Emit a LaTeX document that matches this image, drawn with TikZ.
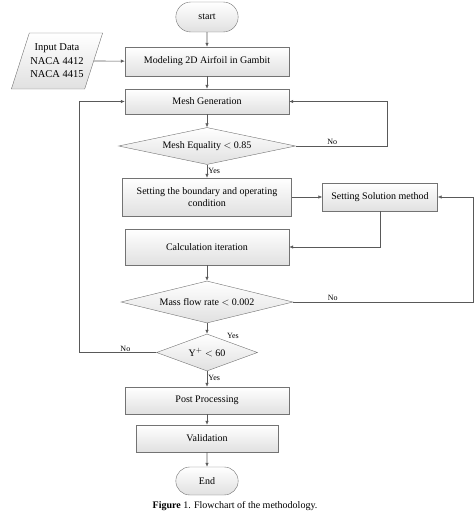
\documentclass[tikz,border=0pt]{standalone}
\usepackage{fontspec}
\setmainfont{Liberation Serif}
\usetikzlibrary{shapes.geometric,shapes.misc,arrows.meta}

\tikzset{
  box/.style={draw=black!55, top color=white, bottom color=black!12, minimum width=164pt, minimum height=27pt, align=center, inner sep=2pt},
  decision/.style={draw=black!55, diamond, aspect=4.8, top color=white, bottom color=black!12, inner sep=0pt, align=center},
  term/.style={draw=black!55, rounded rectangle, top color=white, bottom color=black!12, minimum width=69pt, minimum height=30pt},
  flow/.style={draw=black!65, line width=0.6pt, -{Latex[length=4pt,width=3.5pt]}},
  tag/.style={font=\fontsize{8}{9}\selectfont, inner sep=1pt}
}

\begin{document}
\begin{tikzpicture}[x=1pt,y=-1pt,font=\fontsize{10}{12}\selectfont]
  \useasboundingbox (0,0) rectangle (474,513);

  % main column
  \node[term] (start) at (207,17) {start};
  \node[box, minimum height=29pt] (model) at (207,61.5) {Modeling 2D Airfoil in Gambit};
  \node[box, minimum height=25pt] (mesh) at (207,101.5) {Mesh Generation};
  \node[decision, minimum width=177pt, minimum height=37pt] (quality) at (207,146) {Mesh Equality $<$ 0.85};
  \node[box, minimum width=169pt, minimum height=38pt] (bound) at (207,197) {Setting the boundary and operating\\condition};
  \node[box, minimum width=115pt, minimum height=28pt] (solution) at (380,197) {Setting Solution method};
  \node[box, minimum height=36pt] (calc) at (207,247) {Calculation iteration};
  \node[decision, minimum width=172pt, minimum height=42pt] (mass) at (207,302) {Mass flow rate $<$ 0.002};
  \node[decision, minimum width=101pt, minimum height=37pt, aspect=2.7] (yplus) at (207,352.5) {Y$^{+}$ $<$ 60};
  \node[box, minimum height=27pt] (post) at (207,400.5) {Post Processing};
  \node[box, minimum width=142pt, minimum height=27pt] (valid) at (207,438.5) {Validation};
  \node[term, minimum height=28pt] (stop) at (207,481) {End};

  % input data
  \node[draw=black!55, trapezium, trapezium left angle=63.5, trapezium right angle=116.5,
        trapezium stretches body, top color=white, bottom color=black!12,
        minimum width=80pt, minimum height=56pt, align=center, inner sep=1pt,
        font=\fontsize{10.5}{13.5}\selectfont] (input) at (57,61) {Input Data\\NACA 4412\\NACA 4415};

  % straight arrows
  \draw[flow] (start) -- (model);
  \draw[flow] (input.east) -- (model);
  \draw[flow] (model) -- (mesh);
  \draw[flow] (mesh) -- (quality);
  \draw[flow] (quality) -- node[tag, right, pos=0.45] {Yes} (bound);
  \draw[flow] (bound) -- (solution);
  \draw[flow] (calc) -- (mass);
  \draw[flow] (mass) -- (yplus);
  \draw[flow] (yplus) -- node[tag, right, pos=0.4] {Yes} (post);
  \draw[flow] (post) -- (valid);
  \draw[flow] (valid) -- (stop);

  % loops
  \draw[flow] (quality.east) -- node[tag, above, pos=0.4] {No} (387,146) |- (mesh.east);
  \draw[flow] (solution.south) |- (calc.east);
  \draw[flow] (mass.east) -- node[tag, above, pos=0.22] {No} (473,302) |- (solution.east);
  \draw[flow] (yplus.west) -- node[tag, above, pos=0.4] {No} (79,352.5) |- (mesh.west);
  \node[tag] (yestag) at (233,336) {Yes};

  % caption
  \node (caption) at (235,506) {\textbf{Figure} 1. Flowchart of the methodology.};
\end{tikzpicture}
\end{document}
